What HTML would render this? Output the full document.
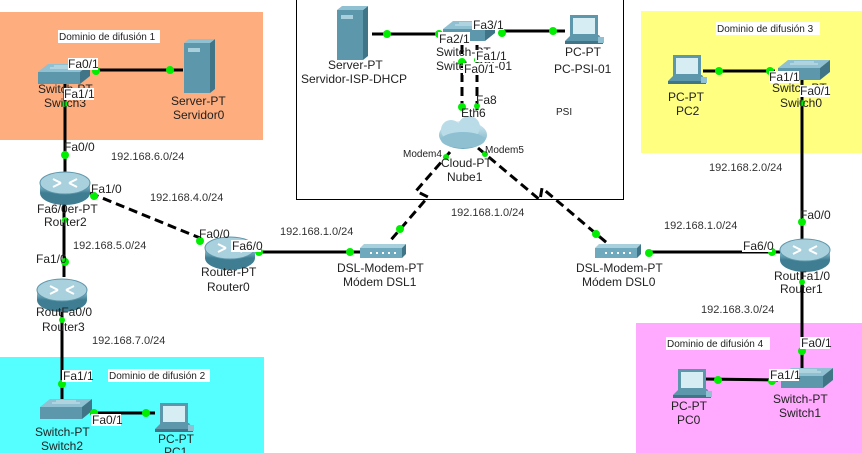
<!DOCTYPE html>
<html><head><meta charset="utf-8"><style>
body{margin:0;width:862px;height:453px;overflow:hidden;background:#fff;font-family:"Liberation Sans","DejaVu Sans",sans-serif}
svg{display:block}
text{font-family:"Liberation Sans","DejaVu Sans",sans-serif;font-size:12px;fill:#222}
.s{font-size:10px}
.ip{font-size:11px;fill:#333}
</style></head><body>
<svg width="862" height="453" viewBox="0 0 862 453">
<defs>
<linearGradient id="rg" x1="0" y1="0" x2="0" y2="1"><stop offset="0" stop-color="#bfe0ea"/><stop offset="0.5" stop-color="#6ea9bd"/><stop offset="1" stop-color="#3f7d92"/></linearGradient>
<linearGradient id="cg" x1="0" y1="0" x2="0" y2="1"><stop offset="0" stop-color="#d6edf5"/><stop offset="1" stop-color="#6aa6bd"/></linearGradient>
<g id="router"><ellipse cx="0" cy="8" rx="25" ry="12" fill="#3f7d92"/><rect x="-25" y="-2" width="50" height="10" fill="url(#rg)"/><ellipse cx="0" cy="-2" rx="25" ry="11" fill="#a9d0dd" stroke="#5d97ab"/><path d="M-12,-6 L-4,-2 M12,-6 L4,-2 M-12,2 L-4,-2 M12,2 L4,-2" stroke="#fff" stroke-width="2"/></g>
<g id="switch"><polygon points="-22,-4 -12,-12 30,-12 20,-4" fill="#8fc1d2"/><rect x="-22" y="-4" width="42" height="12" fill="#5c97ab"/><polygon points="20,-4 30,-12 30,0 20,8" fill="#3f7587"/><path d="M-10,-8 H18 M-6,-10 H14" stroke="#cfe6ee" stroke-width="1"/></g>
<g id="server"><rect x="-13" y="-25" width="26" height="50" fill="#5c97ab"/><polygon points="13,-25 18,-29 18,21 13,25" fill="#3f7587"/><polygon points="-13,-25 -8,-29 18,-29 13,-25" fill="#8fc1d2"/><rect x="-9" y="-20" width="12" height="4" fill="#a8d0dc"/></g>
<g id="pc"><rect x="-15" y="-17" width="28" height="22" fill="#5c97ab"/><rect x="-12" y="-14" width="22" height="16" fill="#d7edf4"/><polygon points="-20,9 -14,3 14,3 18,9" fill="#5c97ab"/><rect x="-20" y="9" width="38" height="3" fill="#3f7587"/><rect x="13" y="5" width="6" height="6" fill="#8fc1d2"/></g>
<g id="modem"><polygon points="-22,-4 -18,-8 24,-8 20,-4" fill="#a8d0dc"/><rect x="-22" y="-4" width="42" height="10" fill="#6ea9bd"/><polygon points="20,-4 24,-8 24,2 20,6" fill="#3f7587"/><path d="M-12,1 h2 M-6,1 h2 M0,1 h2 M6,1 h2 M12,1 h2" stroke="#fff" stroke-width="2"/></g>
</defs>
<rect x="0" y="12" width="263" height="128" fill="#fdad7e"/>
<rect x="641" y="11" width="221" height="142" fill="#ffff80"/>
<rect x="0" y="357" width="264" height="96" fill="#55ffff"/>
<rect x="636" y="323" width="226" height="130" fill="#ffaaff"/>
<rect x="296.5" y="-2" width="327" height="201.5" fill="none" stroke="#000" stroke-width="1"/>
<g stroke="#000" stroke-width="3" fill="none">
<line x1="96" y1="70" x2="183" y2="70"/>
<line x1="65" y1="80" x2="65" y2="172"/>
<line x1="64" y1="200" x2="64" y2="277"/>
<line x1="62" y1="302" x2="62" y2="405"/>
<line x1="90" y1="413" x2="155" y2="413"/>
<line x1="258" y1="252" x2="360" y2="252"/>
<line x1="648" y1="252" x2="780" y2="252"/>
<line x1="802" y1="80" x2="802" y2="240"/>
<line x1="802" y1="268" x2="802" y2="372"/>
<line x1="703" y1="379" x2="778" y2="380"/>
<line x1="703" y1="71" x2="775" y2="71"/>
<line x1="372" y1="34" x2="448" y2="34"/>
<line x1="500" y1="31" x2="565" y2="31"/>
</g>
<g stroke="#000" stroke-width="3" fill="none" stroke-dasharray="9,5">
<line x1="90" y1="193" x2="200" y2="238"/>
<polyline points="450,152 416,191 428,197 390,241"/>
<polyline points="478,148 540,200 542,188 607,243"/>
<line x1="462" y1="45" x2="462" y2="112"/>
<line x1="477" y1="45" x2="477" y2="112"/>
</g>
<use href="#switch" x="60" y="76"/>
<use href="#server" x="197" y="68"/>
<use href="#router" x="65" y="185"/>
<use href="#router" x="62" y="292"/>
<use href="#router" x="230" y="250"/>
<use href="#switch" x="62" y="411"/>
<use href="#pc" x="175" y="420"/>
<use href="#server" x="350" y="35"/>
<use href="#switch" x="465" y="33"/>
<use href="#pc" x="585" y="32"/>
<g transform="translate(463,135)"><ellipse cx="0" cy="0" rx="24" ry="14" fill="url(#cg)"/><circle cx="-12" cy="-5" r="10" fill="#b9dce8"/><circle cx="6" cy="-8" r="11" fill="#b9dce8"/><ellipse cx="0" cy="5" rx="22" ry="8" fill="#8ec0d2"/></g>
<use href="#modem" x="382" y="252"/>
<use href="#modem" x="617" y="252"/>
<use href="#router" x="805" y="252"/>
<use href="#switch" x="800" y="72"/>
<use href="#pc" x="688" y="72"/>
<use href="#switch" x="803" y="380"/>
<use href="#pc" x="693" y="386"/>
<g fill="#00ee00">
<circle cx="96" cy="71" r="4"/><circle cx="170" cy="70" r="4"/>
<circle cx="65" cy="104" r="3"/><circle cx="65" cy="155" r="4"/>
<circle cx="94" cy="196" r="4"/><circle cx="200" cy="241" r="4"/>
<circle cx="65" cy="220" r="3"/><circle cx="65" cy="262" r="4"/>
<circle cx="62" cy="320" r="3"/><circle cx="62" cy="384" r="4"/>
<circle cx="94" cy="413" r="4"/><circle cx="146" cy="413" r="4"/>
<circle cx="259" cy="252" r="4"/><circle cx="350" cy="252" r="4"/>
<circle cx="400" cy="229" r="4"/><circle cx="596" cy="234" r="4"/>
<circle cx="649" cy="253" r="4"/><circle cx="772" cy="252" r="4"/>
<circle cx="802" cy="222" r="4"/><circle cx="802" cy="282" r="3"/>
<circle cx="802" cy="351" r="4"/><circle cx="772" cy="381" r="4"/>
<circle cx="718" cy="380" r="4"/><circle cx="719" cy="71" r="4"/>
<circle cx="770" cy="71" r="4"/><circle cx="802" cy="103" r="3"/>
<circle cx="387" cy="34" r="4"/><circle cx="439" cy="34" r="4"/>
<circle cx="502" cy="33" r="4"/><circle cx="553" cy="31" r="4"/>
<circle cx="462" cy="62" r="4"/><circle cx="462" cy="107" r="4"/>
<circle cx="477" cy="60" r="3"/><circle cx="477" cy="106" r="3"/>
<circle cx="446" cy="157" r="3"/><circle cx="485" cy="154" r="3"/>
</g>
<g>
<rect x="58" y="30" width="102" height="13" fill="#fff"/><text class="s" x="59" y="40">Dominio de difusión 1</text>
<rect x="716" y="22" width="104" height="13" fill="#fff"/><text class="s" x="717" y="32">Dominio de difusión 3</text>
<rect x="108" y="369" width="102" height="13" fill="#fff"/><text class="s" x="109" y="379">Dominio de difusión 2</text>
<rect x="666" y="337" width="104" height="13" fill="#fff"/><text class="s" x="667" y="347">Dominio de difusión 4</text>
<text x="38" y="93">Switch-PT</text><text x="44" y="107">Switch3</text>
<rect x="68" y="58" width="30" height="12" fill="#fff"/><text x="68" y="68">Fa0/1</text>
<rect x="64" y="88" width="30" height="12" fill="#fff"/><text x="64" y="98">Fa1/1</text>
<text x="171" y="105">Server-PT</text><text x="173" y="119">Servidor0</text>
<text x="64" y="151">Fa0/0</text>
<text class="ip" x="111" y="160">192.168.6.0/24</text>
<text x="91" y="193">Fa1/0</text>
<text class="ip" x="150" y="201">192.168.4.0/24</text>
<text x="37" y="213">Fa6/0er-PT</text><text x="44" y="226">Router2</text>
<text x="36" y="263">Fa1/0</text>
<text class="ip" x="73" y="249">192.168.5.0/24</text>
<text x="36" y="316">RoutFa0/0</text><text x="42" y="331">Router3</text>
<text class="ip" x="92" y="344">192.168.7.0/24</text>
<rect x="62" y="370" width="30" height="12" fill="#fff"/><text x="63" y="380">Fa1/1</text>
<text x="35" y="436">Switch-PT</text><text x="41" y="450">Switch2</text>
<rect x="91" y="414" width="30" height="12" fill="#fff"/><text x="92" y="424">Fa0/1</text>
<text x="158" y="443">PC-PT</text><text x="164" y="456">PC1</text>
<text x="199" y="238">Fa0/0</text>
<rect x="231" y="240" width="30" height="12" fill="#fff"/><text x="232" y="250">Fa6/0</text>
<text x="201" y="276">Router-PT</text><text x="207" y="291">Router0</text>
<text class="ip" x="280" y="235">192.168.1.0/24</text>
<text x="337" y="272">DSL-Modem-PT</text><text x="343" y="286">Módem DSL1</text>
<text class="ip" x="451" y="216">192.168.1.0/24</text>
<text x="576" y="272">DSL-Modem-PT</text><text x="582" y="286">Módem DSL0</text>
<text class="ip" x="664" y="229">192.168.1.0/24</text>
<rect x="742" y="240" width="30" height="12" fill="#fff"/><text x="743" y="250">Fa6/0</text>
<text x="800" y="219">Fa0/0</text>
<text x="774" y="280">RoutFa1/0</text><text x="780" y="293">Router1</text>
<text class="ip" x="701" y="313">192.168.3.0/24</text>
<rect x="800" y="337" width="30" height="12" fill="#fff"/><text x="801" y="347">Fa0/1</text>
<rect x="769" y="369" width="30" height="12" fill="#fff"/><text x="770" y="379">Fa1/1</text>
<text x="773" y="403">Switch-PT</text><text x="779" y="417">Switch1</text>
<text x="671" y="410">PC-PT</text><text x="677" y="424">PC0</text>
<text class="ip" x="709" y="171">192.168.2.0/24</text>
<text x="772" y="92">Switch-PT</text><text x="780" y="107">Switch0</text>
<rect x="769" y="71" width="30" height="12" fill="#fff"/><text x="769" y="81">Fa1/1</text>
<rect x="800" y="85" width="30" height="12" fill="#fff"/><text x="800" y="95">Fa0/1</text>
<text x="668" y="101">PC-PT</text><text x="676" y="115">PC2</text>
<text x="328" y="69">Server-PT</text><text x="301" y="83">Servidor-ISP-DHCP</text>
<text x="436" y="56">Switch-PT</text><text x="436" y="70">Switch-PSI-01</text>
<rect x="438" y="32" width="32" height="12" fill="#fff"/><text x="439" y="43">Fa2/1</text>
<rect x="472" y="18" width="32" height="12" fill="#fff"/><text x="473" y="29">Fa3/1</text>
<rect x="475" y="50" width="32" height="12" fill="#fff"/><text x="476" y="60">Fa1/1</text>
<rect x="463" y="63" width="32" height="12" fill="#fff"/><text x="464" y="73">Fa0/1</text>
<text x="565" y="56">PC-PT</text><text x="554" y="73">PC-PSI-01</text>
<text x="476" y="104">Fa8</text><text x="461" y="117">Eth6</text>
<text class="s" x="556" y="115">PSI</text>
<text class="s" x="403" y="157">Modem4</text><text class="s" x="485" y="153">Modem5</text>
<text x="441" y="167">Cloud-PT</text><text x="447" y="181">Nube1</text>
</g>
</svg>
</body></html>
